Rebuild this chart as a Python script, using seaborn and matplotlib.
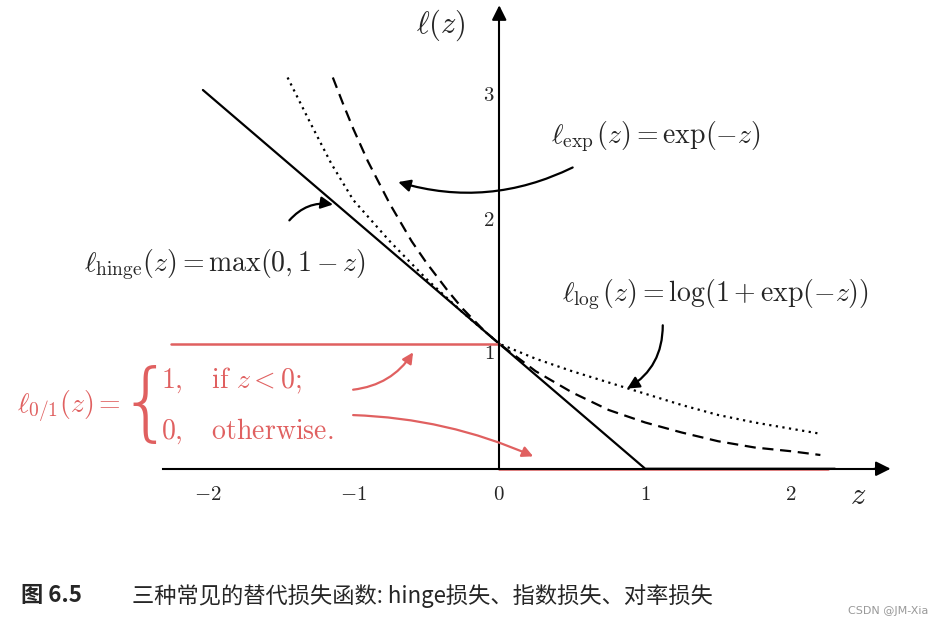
import numpy as np
import seaborn as sns
import matplotlib
matplotlib.use('Agg')
from matplotlib import pyplot as plt

sns.set_style('white')
plt.rcParams['mathtext.fontset'] = 'cm'
plt.rcParams['font.family'] = ['DejaVu Serif']

# values
hinge_z = [-2.03, 1.0, 2.3]
hinge_y = [3.03, 0.0, 0.0]
exp_z = [-1.14, -1.07, -1.0, -0.9, -0.75, -0.6, -0.5, -0.35, -0.25, -0.1, 0.0,
         0.25, 0.5, 0.75, 1.0, 1.25, 1.5, 1.75, 2.0, 2.2]
exp_y = [3.13, 2.92, 2.72, 2.46, 2.12, 1.82, 1.65, 1.42, 1.28, 1.1, 1.0,
         0.78, 0.61, 0.47, 0.37, 0.29, 0.22, 0.17, 0.14, 0.11]
log_z = [-1.45, -1.3, -1.15, -1.0, -0.75, -0.5, -0.25, 0.0, 0.25, 0.5, 0.75,
         1.0, 1.25, 1.5, 1.75, 2.0, 2.2]
log_y = [3.13, 2.78, 2.44, 2.15, 1.82, 1.52, 1.25, 1.0, 0.88, 0.78, 0.69,
         0.6, 0.51, 0.43, 0.37, 0.32, 0.28]
zo_z = [[-2.25, 0.0], [0.0, 2.25]]
zo_y = [[1.0, 1.0], [0.0, 0.0]]
xticks = [-2, -1, 0, 1, 2]
yticks = [1, 2, 3]

red = '#e06060'
fig = plt.figure(figsize=(9.43, 6.27), dpi=100)
ax = fig.add_axes([0, 87 / 627, 1, 540 / 627])
ax.set_xlim(-3.42, 3.04)
ax.set_ylim(-0.57, 3.75)

sns.lineplot(x=hinge_z, y=hinge_y, ax=ax, color='black', lw=1.6, sort=False)
sns.lineplot(x=exp_z, y=exp_y, ax=ax, color='black', lw=1.6, ls=(0, (5, 3)))
sns.lineplot(x=log_z, y=log_y, ax=ax, color='black', lw=1.6, ls=(0, (1, 2)))
for zz, yy in zip(zo_z, zo_y):
    sns.lineplot(x=zz, y=yy, ax=ax, color=red, lw=1.8)

for s in ['top', 'right']:
    ax.spines[s].set_visible(False)
ax.spines['bottom'].set_position(('data', 0))
ax.spines['left'].set_position(('data', 0))
ax.spines['bottom'].set_bounds(-2.3, 2.62)
ax.spines['left'].set_bounds(0, 3.65)
for s in ['bottom', 'left']:
    ax.spines[s].set_color('black')
    ax.spines[s].set_linewidth(1.5)
ax.annotate('', xy=(2.7, 0), xytext=(2.55, 0),
            arrowprops=dict(arrowstyle='-|>', color='black', lw=1.5, mutation_scale=22))
ax.annotate('', xy=(0, 3.73), xytext=(0, 3.6),
            arrowprops=dict(arrowstyle='-|>', color='black', lw=1.5, mutation_scale=22))

ax.set_xticks(xticks)
ax.set_yticks(yticks)
ax.tick_params(direction='in', length=5, labelsize=15)
ax.tick_params(axis='x', pad=12)
ax.set_xticklabels(['$-2$', '$-1$', '$0$', '$1$', '$2$'])
ax.set_yticklabels(['$1$', '$2$', '$3$'])
# the "1" label sits a little below its tick in the reference
ax.get_yticklabels()[0].set_verticalalignment('top')

fs = 20
ax.text(-0.4, 3.55, r'$\ell(z)$', fontsize=22, ha='center', va='center')
ax.text(2.46, -0.21, r'$z$', fontsize=22, ha='center', va='center')
ax.text(1.07, 2.66, r'$\ell_{\exp}(z) = \exp(-z)$', fontsize=fs, ha='center', va='center')
ax.text(-1.88, 1.63, r'$\ell_{\rm hinge}(z) = \max(0, 1-z)$', fontsize=fs, ha='center', va='center')
ax.text(1.48, 1.39, r'$\ell_{\log}(z) = \log(1+\exp(-z))$', fontsize=fs, ha='center', va='center')

arr = dict(arrowstyle='-|>', color='black', lw=1.6, mutation_scale=18)
ax.annotate('', xy=(-0.71, 2.3), xytext=(0.52, 2.42),
            arrowprops=dict(arr, connectionstyle='arc3,rad=-0.2'))
ax.annotate('', xy=(-1.12, 2.11), xytext=(-1.45, 1.97),
            arrowprops=dict(arr, connectionstyle='arc3,rad=-0.3'))
ax.annotate('', xy=(0.86, 0.63), xytext=(1.12, 1.17),
            arrowprops=dict(arr, connectionstyle='arc3,rad=-0.3'))

ax.text(-2.95, 0.5, r'$\ell_{0/1}(z) =$', fontsize=fs, color=red, ha='center', va='center')
ax.text(-2.42, 0.5, '{', fontsize=62, color=red, ha='center', va='center',
        family='DejaVu Sans', fontweight='light')
ax.text(-2.32, 0.7, r'$1,\quad\mathrm{if}\ z<0;$', fontsize=fs, color=red, va='center')
ax.text(-2.32, 0.3, r'$0,\quad\mathrm{otherwise.}$', fontsize=fs, color=red, va='center')
rarr = dict(arrowstyle='-|>', color=red, lw=1.6, mutation_scale=16)
ax.annotate('', xy=(-0.58, 0.95), xytext=(-1.02, 0.63),
            arrowprops=dict(rarr, connectionstyle='arc3,rad=0.25'))
ax.annotate('', xy=(0.25, 0.09), xytext=(-1.02, 0.43),
            arrowprops=dict(rarr, connectionstyle='arc3,rad=-0.1'))

fig.text(0.022, 0.05, '图 6.5', fontsize=16, fontweight='bold',
         family=['Noto Sans CJK SC', 'DejaVu Sans'], va='center')
fig.text(0.14, 0.05, '三种常见的替代损失函数: hinge损失、指数损失、对率损失', fontsize=16,
         family=['Noto Sans CJK SC', 'DejaVu Sans'], va='center')
fig.text(0.985, 0.02, 'CSDN @JM-Xia', fontsize=8, color='#999999', ha='right',
         family=['DejaVu Sans'])

fig.savefig('out.png', dpi=100, facecolor='white')
